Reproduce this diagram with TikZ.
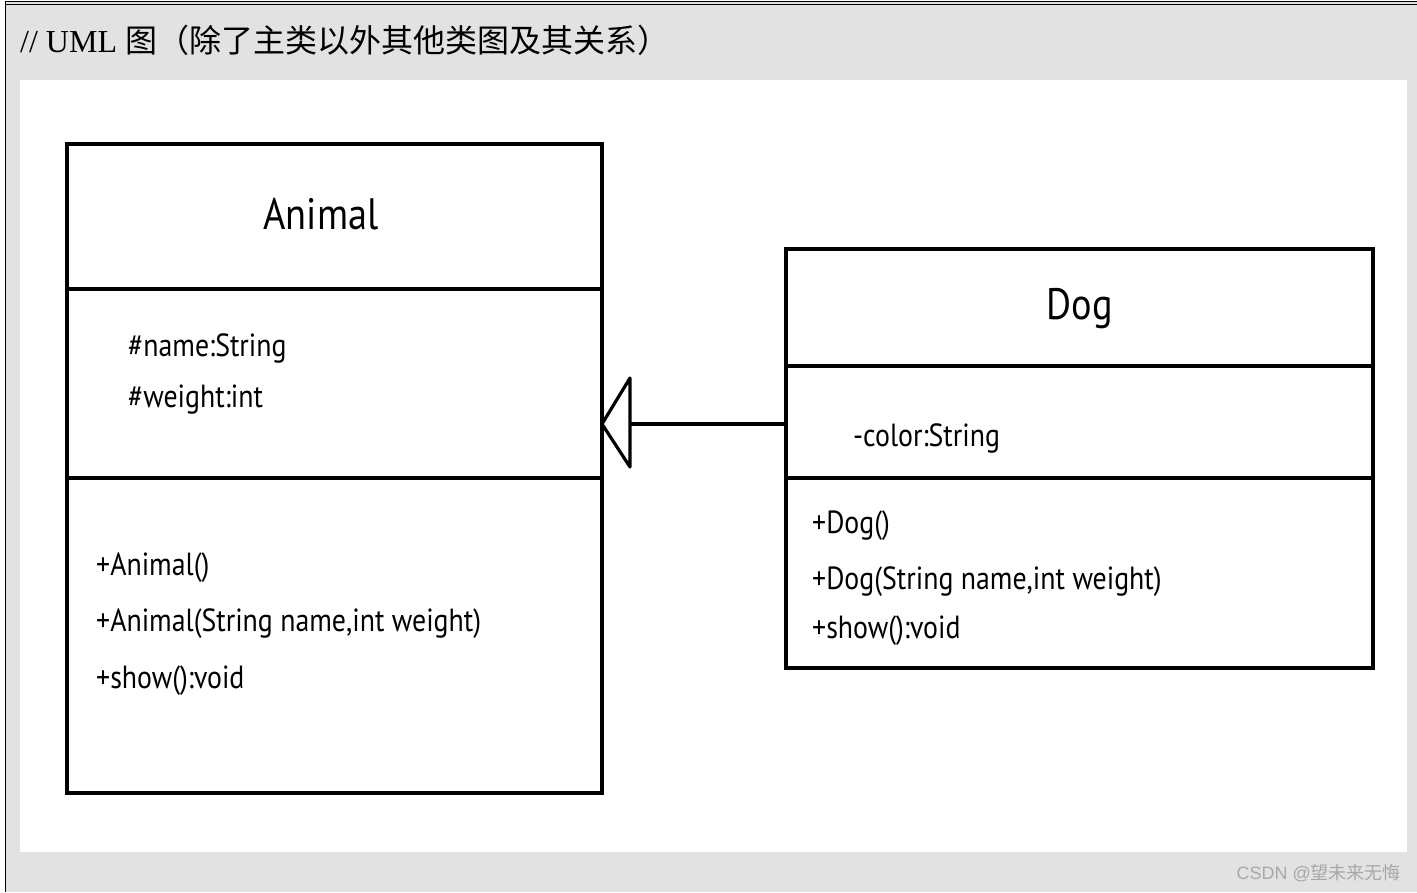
\documentclass[tikz,border=0pt]{standalone}
\usepackage{fontspec}
\newfontfamily\hdrfont{Liberation Serif}
\newfontfamily\cjkfont{Noto Sans CJK SC}
\newfontfamily\umlfont[FakeStretch=0.87]{PT Sans}
\newfontfamily\wmfont{Liberation Sans}
\definecolor{bgchk}{HTML}{E2E2E2}
\definecolor{wmgray}{HTML}{A8A8A8}
\tikzset{
  boxline/.style={line width=3.2pt, draw=black},
  divline/.style={line width=3.2pt, draw=black},
  cname/.style={font=\umlfont\fontsize{44}{50}\selectfont, anchor=center, inner sep=0pt},
  member/.style={font=\umlfont\fontsize{32}{36}\selectfont, anchor=west, inner sep=0pt},
}
\begin{document}
\begin{tikzpicture}[x=1pt,y=-1pt]
\useasboundingbox (0,0) rectangle (1417,892);
% background
\fill[bgchk] (0,0) rectangle (1417,892);
\fill[white] (0,0) rectangle (1417,2);
\fill[white] (0,0) rectangle (5,892);
\fill[white] (20,80) rectangle (1407,852);
\draw[line width=1.2pt] (5,1.5) -- (1417,1.5);
\draw[line width=1.2pt] (5,4.5) -- (1417,4.5);
\draw[line width=1.5pt] (5.5,1) -- (5.5,892);
% header
\node[anchor=west, inner sep=0pt] (hdr) at (20,40) {\hdrfont\fontsize{32}{36}\selectfont // UML \cjkfont 图（除了主类以外其他类图及其关系）};
% watermark
\node[anchor=east, inner sep=0pt, text=wmgray] (wm) at (1401,873) {\wmfont\fontsize{18}{21}\selectfont CSDN @\cjkfont 望未来无悔};
% Animal class
\draw[boxline] (67,144) rectangle (602,793);
\coordinate (a1l) at (67,289); \coordinate (a1r) at (602,289);
\coordinate (a2l) at (67,478); \coordinate (a2r) at (602,478);
\draw[divline] (a1l) -- (a1r);
\draw[divline] (a2l) -- (a2r);
\node[cname] (animal) at (321,214) {Animal};
\node[member] (an1) at (128,348) {\#name:String};
\node[member] (an2) at (128,400) {\#weight:int};
\node[member] (am1) at (96,568) {+Animal()};
\node[member] (am2) at (96,624) {+Animal(String name,int weight)};
\node[member] (am3) at (96,681) {+show():void};
% Dog class
\draw[boxline] (786,249) rectangle (1373,668);
\coordinate (d1l) at (786,366); \coordinate (d1r) at (1373,366);
\coordinate (d2l) at (786,478); \coordinate (d2r) at (1373,478);
\draw[divline] (d1l) -- (d1r);
\draw[divline] (d2l) -- (d2r);
\node[cname] (dog) at (1080,309) {Dog};
\node[member] (dn1) at (853,438) {-color:String};
\node[member] (dm1) at (812,526) {+Dog()};
\node[member] (dm2) at (812,582) {+Dog(String name,int weight)};
\node[member] (dm3) at (812,631) {+show():void};
% generalization arrow
\coordinate (tip) at (602,424);
\coordinate (tb) at (630,378);
\coordinate (bb) at (630,467);
\coordinate (tm) at (630,424);
\coordinate (dogl) at (786,424);
\draw[line width=3.2pt, line join=round] (tip) -- (tb) -- (bb) -- cycle;
\draw[line width=3.2pt] (tm) -- (dogl);
\end{tikzpicture}
\end{document}
